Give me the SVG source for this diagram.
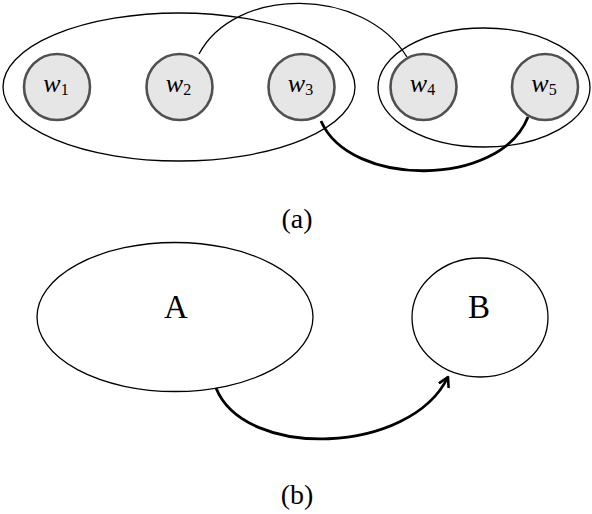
<svg xmlns="http://www.w3.org/2000/svg" width="592" height="514" viewBox="0 0 592 514">
<defs>
<style>
.grp{fill:none;stroke:#000;stroke-width:1.3}
.word{fill:#e6e6e6;stroke:#505050;stroke-width:2.6}
.w{font-family:'Liberation Serif','Times New Roman','DejaVu Serif',serif;font-style:italic;font-size:26px;fill:#000}
.sub{font-style:normal;font-size:16px}
.lbl{font-family:'Liberation Serif','Times New Roman','DejaVu Serif',serif;font-size:28px;fill:#000}
.big{font-family:'Liberation Serif','Times New Roman','DejaVu Serif',serif;font-size:33px;fill:#000}
.thin{fill:none;stroke:#000;stroke-width:1.3}
.thick{fill:none;stroke:#000;stroke-width:2.8}
</style>
<marker id="arr" markerWidth="14" markerHeight="14" refX="10" refY="6" orient="auto" markerUnits="userSpaceOnUse" viewBox="0 0 14 12">
<path d="M1,1 L10,6 L1,11" fill="none" stroke="#000" stroke-width="2.6" stroke-linecap="round" stroke-linejoin="round"/>
</marker>
</defs>
<rect width="592" height="514" fill="#fff"/>
<g id="group-left"><ellipse class="grp" cx="179" cy="87" rx="176" ry="74"/></g>
<g id="group-right"><ellipse class="grp" cx="484" cy="87.5" rx="106" ry="59.5"/></g>
<g id="connectors">
<path class="thin" d="M199,54 C235,-14 363,-14 407,57"/>
<path class="thick" d="M321,121 C350,188 500,188 528,117"/>
<path class="thick" d="M216,388 C245,460 410,455 448,377" marker-end="url(#arr)"/>
</g>
<g id="w1"><circle class="word" cx="57" cy="87" r="33"/><text class="w" x="56" y="92" text-anchor="middle">w<tspan class="sub" dy="3">1</tspan></text></g>
<g id="w2"><circle class="word" cx="179.5" cy="87" r="33"/><text class="w" x="178.5" y="92" text-anchor="middle">w<tspan class="sub" dy="3">2</tspan></text></g>
<g id="w3"><circle class="word" cx="301.5" cy="87" r="33"/><text class="w" x="300.5" y="92" text-anchor="middle">w<tspan class="sub" dy="3">3</tspan></text></g>
<g id="w4"><circle class="word" cx="423.5" cy="87" r="33"/><text class="w" x="422.5" y="92" text-anchor="middle">w<tspan class="sub" dy="3">4</tspan></text></g>
<g id="w5"><circle class="word" cx="545" cy="87" r="33"/><text class="w" x="544" y="92" text-anchor="middle">w<tspan class="sub" dy="3">5</tspan></text></g>
<text class="lbl" x="297" y="228" text-anchor="middle">(a)</text>
<g id="A"><ellipse class="grp" cx="175" cy="317" rx="138" ry="74.5"/><text class="big" x="176" y="318" text-anchor="middle">A</text></g>
<g id="B"><ellipse class="grp" cx="480" cy="317.5" rx="68" ry="59.5"/><text class="big" x="479" y="318" text-anchor="middle">B</text></g>
<text class="lbl" x="297" y="504" text-anchor="middle">(b)</text>
</svg>
